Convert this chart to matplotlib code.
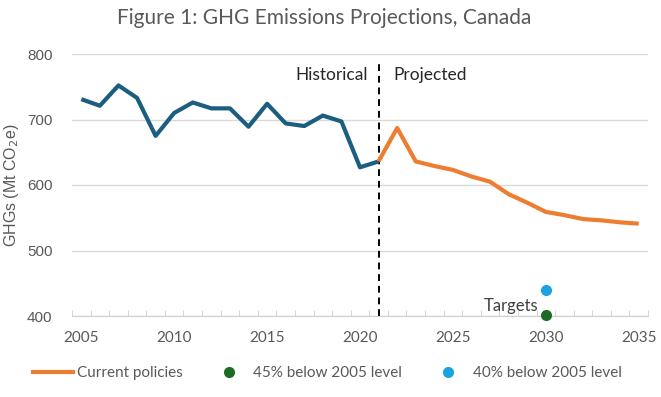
import numpy as np
import matplotlib.pyplot as plt
from matplotlib.lines import Line2D

hist_years = list(range(2005, 2022))
hist_vals = [731, 721, 752, 733, 675, 710, 726, 717, 717, 689, 724, 694, 690, 706, 697, 627, 636]

proj_years = list(range(2021, 2036))
proj_vals = [636, 687, 636, 629, 623, 613, 605, 586, 573, 559, 554, 548, 546, 543, 541]

target_year = 2030
target_45 = 402
target_40 = 439

blue = '#1b5e7f'
orange = '#ed7d31'
green = '#1e6b24'
light_blue = '#1ba3e0'
gray = '#595959'

plt.rcParams['font.family'] = ['Lato', 'DejaVu Sans']

fig = plt.figure(figsize=(6.61, 3.97), dpi=100)
ax = fig.add_axes([72 / 661, 1 - 316 / 397, 576 / 661, 262 / 397])

ax.plot(hist_years, hist_vals, color=blue, lw=3, solid_capstyle='butt', zorder=3)
ax.plot(proj_years, proj_vals, color=orange, lw=3, solid_capstyle='butt', zorder=3)
ax.plot([target_year], [target_45], 'o', color=green, ms=7, zorder=4, clip_on=False)
ax.plot([target_year], [target_40], 'o', color=light_blue, ms=7, zorder=4, clip_on=False)

ax.axvline(2021, ymax=0.975, color='black', ls=(0, (3.5, 2.5)), lw=1.4, zorder=2)
ax.text(2020.4, 768, 'Historical', ha='right', va='center', fontsize=12.5, color='#262626')
ax.text(2021.8, 768, 'Projected', ha='left', va='center', fontsize=12.5, color='#262626')
ax.text(2029.6, 416, 'Targets', ha='right', va='center', fontsize=12, color='#404040')

ax.set_xlim(2004.5, 2035.5)
ax.set_ylim(400, 800)
ax.set_yticks([400, 500, 600, 700, 800])
ax.set_xticks(range(2005, 2036, 5))
ax.set_xticks(np.arange(2004.5, 2036, 1), minor=True)
ax.tick_params(axis='x', which='major', length=0, pad=11, labelsize=11, labelcolor=gray)
ax.tick_params(axis='x', which='minor', length=4, direction='in', color='#d0d0d0')
ax.tick_params(axis='y', length=0, pad=14, labelsize=11, labelcolor=gray)
for lbl in ax.get_yticklabels():
    lbl.set_family(['Liberation Sans', 'DejaVu Sans'])

ax.grid(axis='y', color='#d9d9d9', lw=1)
ax.set_axisbelow(True)
for s in ['top', 'right', 'left']:
    ax.spines[s].set_visible(False)
ax.spines['bottom'].set_color('#d0d0d0')

ax.set_ylabel('GHGs (Mt CO$_2$e)', fontsize=11.5, color=gray, family=['Liberation Sans', 'DejaVu Sans'], labelpad=4)

fig.text(0.49, 0.955, 'Figure 1: GHG Emissions Projections, Canada', ha='center', va='center',
         fontsize=15, color='#595959')

handles = [
    Line2D([], [], color=orange, lw=3),
    Line2D([], [], color=green, marker='o', ls='none', ms=7),
    Line2D([], [], color=light_blue, marker='o', ls='none', ms=7),
]
labels = ['Current policies', '45% below 2005 level', '40% below 2005 level']
leg = fig.legend(handles, labels, loc='center', bbox_to_anchor=(0.495, 0.06), ncol=3, frameon=False,
                 fontsize=11, handlelength=2.6, handletextpad=0.3, columnspacing=1.7)
for t in leg.get_texts():
    t.set_color(gray)

fig.savefig('out.png', dpi=100)
